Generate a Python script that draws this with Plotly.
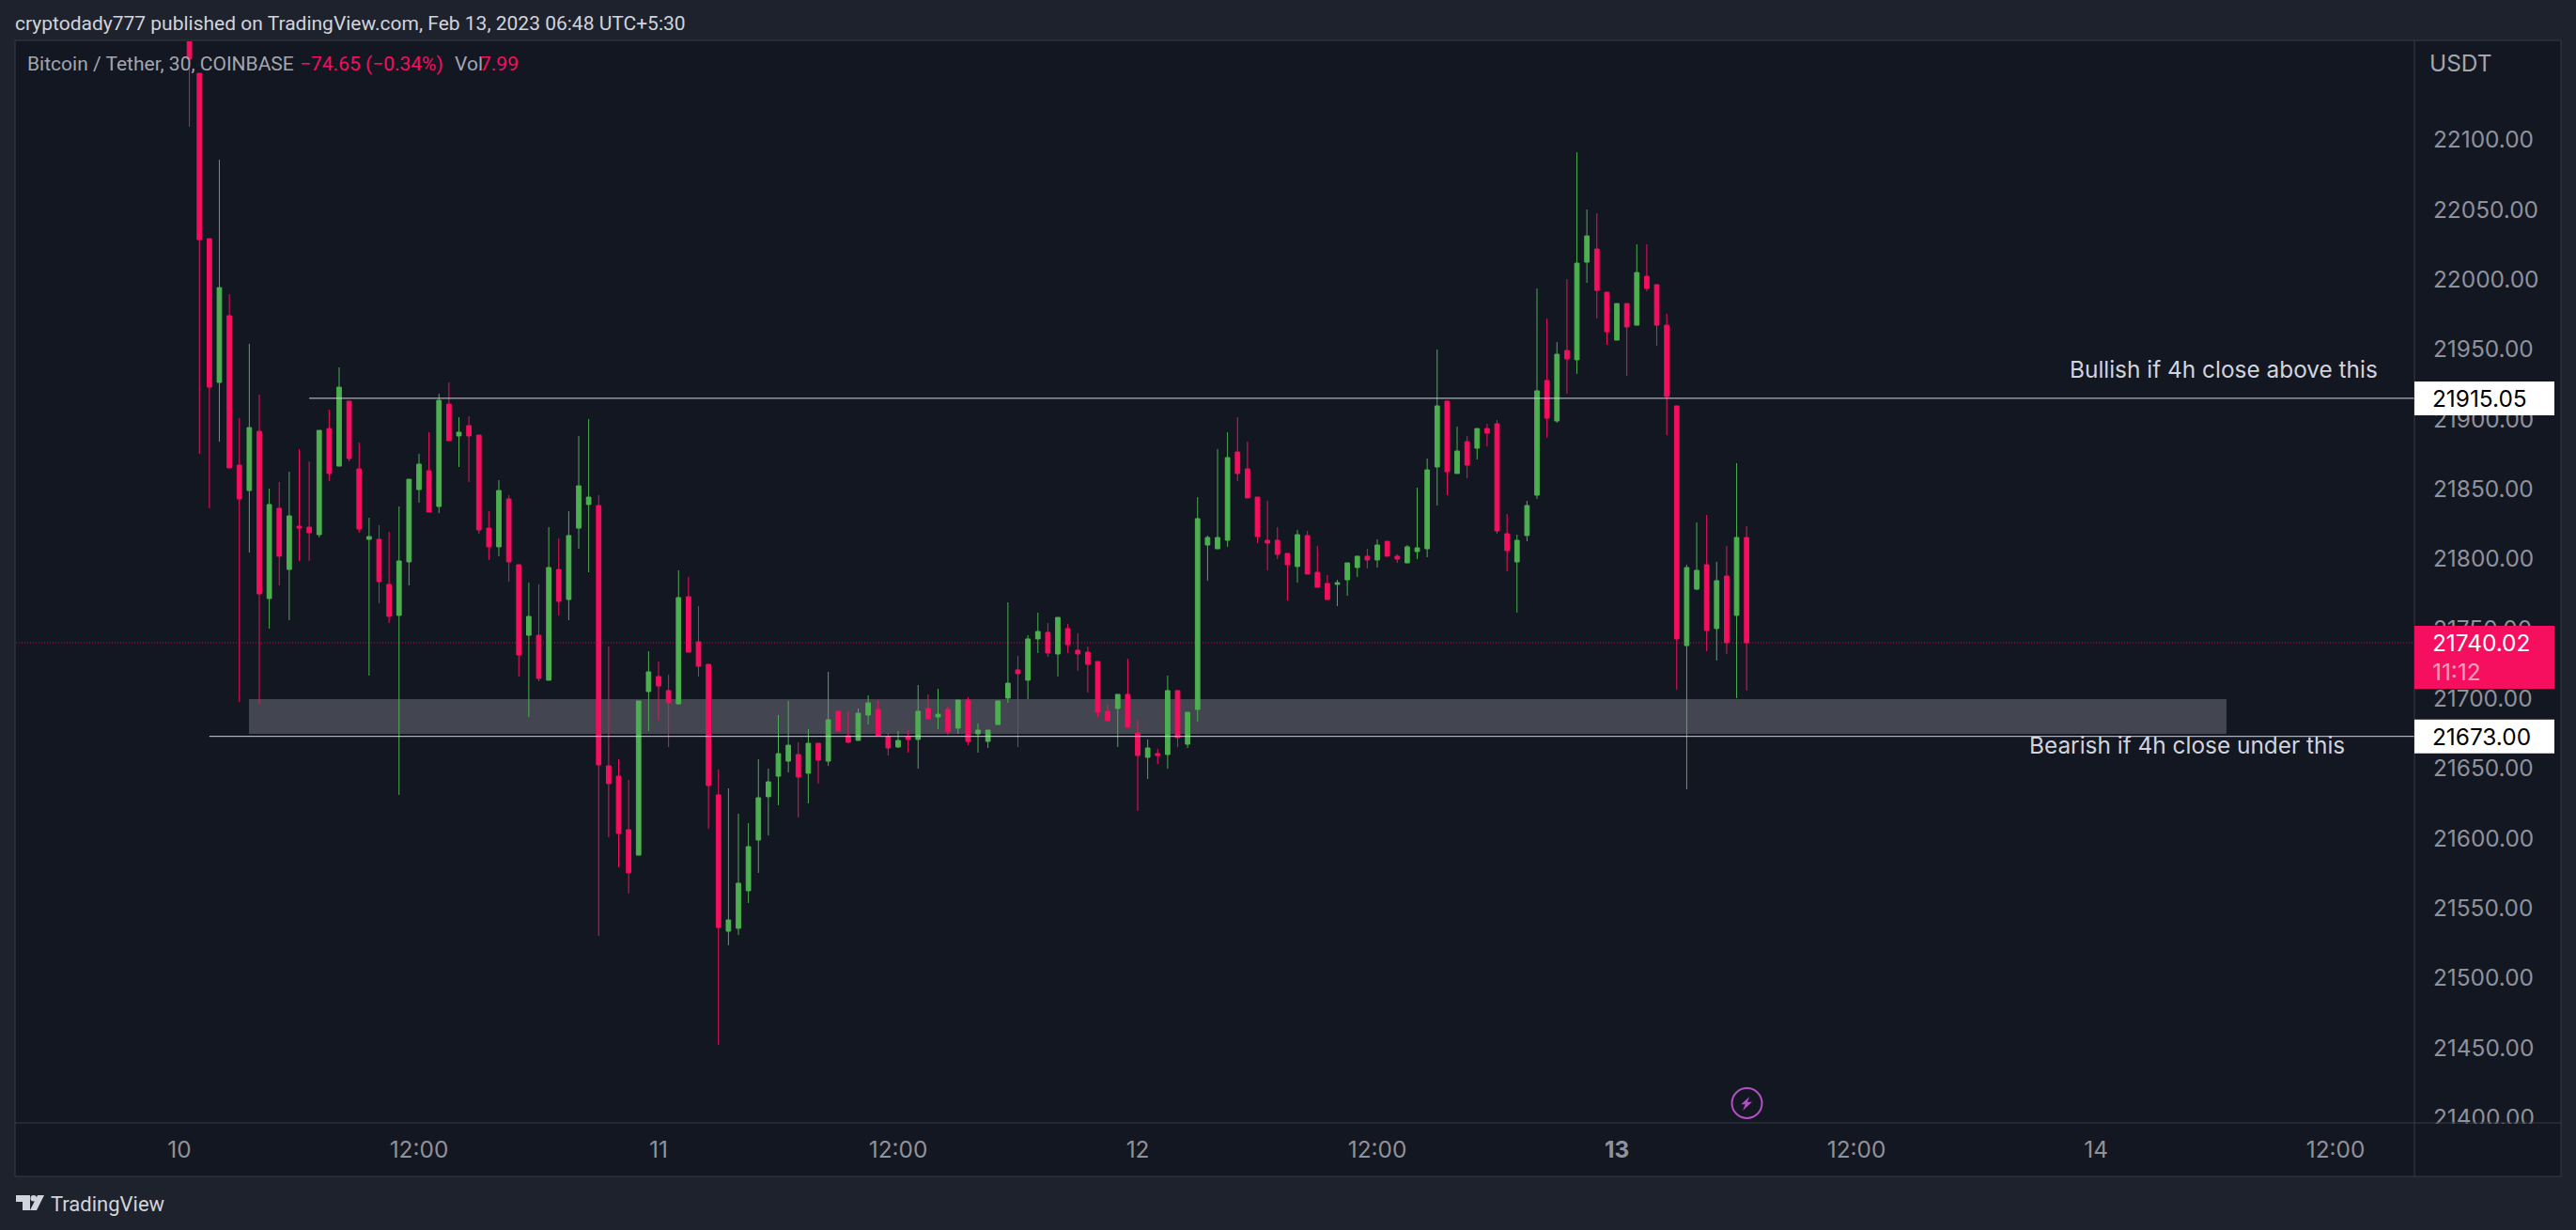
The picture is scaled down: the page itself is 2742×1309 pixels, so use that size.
import pandas as pd
import plotly.graph_objects as go

times = pd.date_range("2023-02-10 00:30", periods=157, freq="30min")

open_ = [22215.0,22147.7,22029.3,21926.4,21974.2,21867.2,21849.0,21891.4,21771.7,21836.3,
21792.5,21823.5,21822.8,21817.4,21893.4,21866.5,21913.0,21864.5,21814.1,21814.1,
21781.8,21759.6,21797.9,21849.7,21863.2,21837.6,21910.9,21888.1,21895.5,21888.7,
21822.1,21808.7,21843.0,21795.9,21745.4,21745.4,21713.2,21792.5,21771.0,21822.1,
21839.0,21838.3,21651.9,21644.5,21606.2,21588.0,21705.1,21715.9,21705.8,21696.3,
21773.0,21740.7,21724.6,21631.1,21533.5,21535.6,21562.5,21598.8,21629.8,21644.5,
21655.3,21660.0,21646.6,21668.1,21655.3,21691.0,21673.5,21670.1,21688.3,21692.3,
21672.8,21665.4,21672.8,21670.8,21693.0,21686.9,21692.3,21678.9,21699.0,21674.8,
21669.4,21681.5,21700.4,21720.6,21713.2,21742.8,21747.5,21732.0,21750.2,21734.7,
21733.3,21726.6,21691.0,21693.0,21703.1,21675.5,21658.0,21660.7,21660.0,21705.8,
21667.4,21692.3,21810.0,21807.3,21813.4,21876.6,21864.5,21844.3,21813.4,21813.4,
21804.0,21794.6,21816.8,21790.5,21782.5,21781.8,21785.1,21793.9,21802.0,21799.3,
21812.7,21802.0,21797.2,21805.3,21807.3,21865.9,21913.0,21861.2,21884.0,21879.3,
21893.4,21896.8,21818.1,21797.9,21816.8,21845.7,21927.8,21898.8,21949.3,21942.6,
22012.5,22021.9,21991.0,21956.7,21982.9,21967.4,22002.4,21996.4,21967.4,21909.6,
21738.0,21778.4,21795.9,21750.2,21787.8,21759.6,21815.4]

high = [22225.0,22147.7,22029.3,22085.8,21989.6,21900.8,21954.0,21917.7,21850.4,21855.1,
21862.5,21878.6,21869.9,21892.1,21906.9,21937.2,21913.0,21883.4,21829.5,21824.2,
21819.4,21837.6,21857.1,21875.3,21890.8,21918.3,21926.4,21901.5,21902.2,21888.7,
21834.2,21856.4,21845.7,21795.9,21783.1,21781.8,21822.8,21814.7,21834.2,21888.1,
21900.2,21845.7,21737.4,21656.7,21641.9,21698.4,21734.0,21726.6,21717.2,21791.9,
21787.2,21766.3,21724.6,21649.3,21635.8,21617.6,21610.9,21656.7,21649.9,21688.3,
21698.4,21668.8,21678.2,21668.1,21719.2,21691.0,21691.0,21693.0,21702.4,21699.0,
21675.5,21676.8,21677.5,21709.8,21703.1,21707.1,21694.3,21699.0,21701.1,21682.2,
21677.5,21698.4,21769.0,21730.6,21745.4,21761.6,21754.2,21758.2,21753.5,21746.8,
21737.4,21726.6,21695.7,21703.1,21728.6,21684.9,21670.8,21664.1,21716.5,21705.8,
21690.3,21844.3,21816.8,21878.6,21890.8,21901.5,21884.0,21844.3,21841.6,21822.8,
21804.0,21820.8,21820.1,21809.4,21788.5,21785.1,21797.2,21802.0,21807.3,21814.1,
21812.7,21803.3,21810.0,21851.1,21871.9,21950.0,21913.0,21894.8,21888.1,21893.4,
21896.8,21899.5,21832.2,21817.4,21841.6,21993.7,21972.2,21955.3,22000.4,22091.2,
22050.2,22047.5,21991.0,21982.9,21982.9,22025.3,22025.3,21996.4,21975.5,21909.6,
21795.9,21826.2,21831.6,21797.9,21809.4,21868.6,21823.5]

low = [22109.4,21875.3,21836.2,21884.0,21865.2,21697.7,21804.6,21696.3,21750.2,21781.1,
21756.2,21798.6,21798.6,21815.4,21855.8,21866.5,21869.9,21818.8,21716.5,21768.3,
21754.2,21631.1,21781.1,21840.3,21833.6,21832.9,21884.7,21865.9,21855.1,21818.1,
21799.3,21802.0,21783.8,21715.9,21686.9,21712.5,21713.2,21759.6,21756.2,21807.3,
21790.5,21530.2,21600.8,21579.3,21560.5,21588.0,21676.8,21684.2,21665.4,21695.7,
21733.3,21715.9,21606.9,21452.2,21523.5,21530.9,21553.7,21575.3,21602.2,21623.7,
21647.2,21615.0,21625.0,21639.2,21651.9,21676.8,21668.1,21670.1,21681.5,21673.5,
21659.3,21664.7,21661.4,21649.9,21685.6,21678.2,21674.1,21674.8,21666.7,21661.4,
21664.7,21681.5,21697.0,21665.4,21699.7,21732.7,21730.0,21715.9,21732.7,21719.9,
21704.4,21686.9,21684.2,21665.4,21679.5,21619.7,21642.5,21653.3,21649.9,21665.4,
21664.7,21683.6,21784.5,21807.3,21808.7,21855.8,21843.7,21811.4,21791.9,21799.9,
21770.3,21783.1,21789.2,21779.8,21771.0,21766.3,21773.7,21787.2,21793.2,21793.9,
21802.0,21797.2,21797.2,21799.9,21801.3,21838.3,21845.7,21861.2,21857.8,21871.2,
21880.7,21818.1,21791.2,21761.6,21812.7,21843.0,21886.7,21897.5,21918.3,21932.5,
21997.7,21972.2,21953.3,21956.7,21931.1,21967.4,21991.7,21952.6,21888.7,21706.4,
21635.1,21777.7,21734.0,21727.3,21732.0,21700.4,21705.8]

close = [22158.0,22028.6,21923.0,21994.3,21865.2,21843.0,21894.1,21775.0,21839.0,21802.0,
21830.9,21822.1,21818.8,21892.1,21861.2,21923.0,21871.9,21821.5,21816.1,21783.8,
21758.9,21798.6,21857.1,21867.9,21833.6,21913.6,21884.7,21890.8,21888.1,21820.8,
21808.7,21849.0,21797.9,21731.3,21758.9,21714.5,21793.9,21769.7,21816.8,21852.4,
21844.3,21652.6,21639.2,21603.5,21575.3,21698.4,21719.2,21709.1,21697.0,21772.4,
21733.3,21723.2,21637.8,21536.2,21541.6,21567.9,21594.1,21629.1,21640.5,21660.7,
21666.7,21643.9,21668.1,21656.0,21684.9,21676.8,21668.8,21689.6,21697.0,21673.5,
21664.7,21670.1,21670.8,21691.0,21685.6,21688.9,21676.2,21699.0,21669.4,21677.5,
21677.5,21698.4,21711.1,21717.9,21742.8,21748.1,21732.7,21758.2,21738.7,21732.0,
21724.6,21690.3,21684.2,21703.1,21679.5,21659.3,21664.7,21659.3,21705.8,21672.1,
21690.3,21828.9,21815.4,21815.4,21872.6,21861.2,21843.7,21816.1,21811.4,21803.3,
21795.9,21817.4,21789.2,21779.8,21771.0,21783.1,21797.2,21802.0,21799.3,21810.0,
21802.0,21799.9,21808.7,21808.0,21863.8,21909.6,21862.5,21877.3,21867.2,21893.4,
21890.1,21820.1,21806.0,21813.4,21838.3,21920.4,21900.8,21946.6,21943.2,22011.8,
22031.3,21992.3,21962.7,21982.9,21966.1,22005.1,21993.7,21967.4,21916.3,21742.8,
21793.9,21791.9,21748.8,21784.5,21740.1,21815.4,21740.0]

price_ticks = [21400, 21450, 21500, 21550, 21600, 21650, 21700, 21750, 21800, 21850, 21900, 21950, 22000, 22050, 22100]
price_labels = [f"{p}.00" for p in price_ticks]
time_ticks = ["2023-02-10 00:00", "2023-02-10 12:00", "2023-02-11 00:00", "2023-02-11 12:00", "2023-02-12 00:00",
              "2023-02-12 12:00", "2023-02-13 00:00", "2023-02-13 12:00", "2023-02-14 00:00", "2023-02-14 12:00"]
time_labels = ["10", "12:00", "11", "12:00", "12", "12:00", "<b>13</b>", "12:00", "14", "12:00"]

bull_level = 21915.05
bear_level = 21673.00
last_price = 21740.02
zone_low, zone_high = 21674.8, 21699.7

W, H = 2742, 1309
L, R, T, B = 17, 2570, 44, 1195
def px(x): return (x - L) / (R - L)
def py(y): return 1 - (y - T) / (B - T)
def poly(pts): return "M" + " L".join(f"{px(x):.6f},{py(y):.6f}" for x, y in pts) + " Z"

BG = "#1E222D"; PANEL = "#131722"; BORDER = "#363A45"
GREEN = "#4CAF50"; RED = "#F50F5E"; WHITE = "#D1D4DC"; GREY = "#8F929C"
FONT = "Inter"; SMALL = "Roboto"

def prect(x0, y0, x1, y1, fill, layer="below", line=None):
    return dict(type="rect", xref="paper", yref="paper", x0=px(x0), x1=px(x1), y0=py(y0), y1=py(y1),
                fillcolor=fill, line=dict(width=1 if line else 0, color=line or fill), layer=layer)

def tag(level, lo, hi, fill):
    return dict(type="rect", xref="paper", yref="y", x0=px(2570), x1=px(2719), ysizemode="pixel", yanchor=level,
                y0=lo, y1=hi, fillcolor=fill, line=dict(width=0), layer="above")

shapes = [
    prect(16, 43, 2726, 1252, PANEL, line=BORDER),
    dict(type="rect", xref="x", yref="y", x0="2023-02-10 03:29", x1="2023-02-14 06:32", y0=zone_low, y1=zone_high,
         fillcolor="#434650", line=dict(width=0), layer="below"),
    dict(type="line", xref="paper", yref="y", x0=0, x1=1, y0=last_price, y1=last_price,
         line=dict(color="rgba(245,15,94,0.75)", width=1, dash="1px,2px"), layer="below"),
    prect(2570, 1196, 2725, 1251, PANEL, layer="above"),
    dict(type="line", xref="paper", yref="paper", x0=px(16), x1=px(2726), y0=py(1195), y1=py(1195),
         line=dict(color=BORDER, width=1), layer="above"),
    dict(type="line", xref="paper", yref="paper", x0=px(2570), x1=px(2570), y0=py(43), y1=py(1252),
         line=dict(color=BORDER, width=1), layer="above"),
    tag(bull_level, -18, 18, "#FFFFFF"),
    tag(bear_level, -18, 18, "#FFFFFF"),
    tag(last_price, -49, 18, RED),
]
# TradingView logo
shapes.append(dict(type="path", xref="paper", yref="paper", layer="above", fillcolor="#D1D4DC", line=dict(width=0),
                   path=poly([(17,1272),(32,1272),(32,1288),(24,1288),(24,1279),(17,1279)])))
shapes.append(dict(type="path", xref="paper", yref="paper", layer="above", fillcolor="#D1D4DC", line=dict(width=0),
                   path=poly([(40,1272),(47,1272),(39,1288),(32,1288)])))
shapes.append(dict(type="circle", xref="paper", yref="paper", layer="above", fillcolor="#D1D4DC", line=dict(width=0),
                   x0=px(32.5), x1=px(39), y0=py(1272), y1=py(1278.5)))
# lightning badge
shapes.append(dict(type="circle", xref="paper", yref="paper", layer="above", fillcolor="rgba(0,0,0,0)",
                   line=dict(color="#B14FC4", width=2), x0=px(1843.5), x1=px(1875.5), y0=py(1158), y1=py(1190)))
shapes.append(dict(type="path", xref="paper", yref="paper", layer="above", fillcolor="#B14FC4", line=dict(width=0),
                   path=poly([(1862.3,1167),(1853.3,1175.3),(1857.7,1175.3),(1855,1182),(1865,1172.7),(1860,1172.7)])))

def note(text, x, y, color, size=24.4, anchor="left", yref="paper", family=FONT):
    return dict(text=text, x=px(x), y=y, xref="paper", yref=yref, xanchor=anchor, yanchor="middle", showarrow=False,
                font=dict(family=family, size=size, color=color), borderpad=0)

annotations = [
    note("cryptodady777 published on TradingView.com, Feb 13, 2023 06:48 UTC+5:30", 15, py(25.5), WHITE, size=21, family=SMALL),
    note("Bitcoin / Tether, 30, COINBASE", 28, py(68), "#A3A6AF", size=21, family=SMALL),
    note("−74.65 (−0.34%)", 318, py(68), RED, size=21, family=SMALL),
    note("Vol", 483, py(68), "#A3A6AF", size=21, family=SMALL),
    note("7.99", 510, py(68), RED, size=21, family=SMALL),
    note("USDT", 2585, py(67), "#A3A6AF"),
    note("Bullish if 4h close above this", 2532, py(393), WHITE, anchor="right"),
    note("Bearish if 4h close under this", 2497, py(793), WHITE, anchor="right"),
    note("21915.05", 2588, bull_level, "#000000", yref="y"),
    note("21673.00", 2588, bear_level, "#000000", yref="y"),
    note("21740.02", 2588, py(684), "#FFFFFF"),
    note("11:12", 2588, py(715), "rgba(255,255,255,0.6)"),
    note("TradingView", 53, py(1281), WHITE, size=22, family=SMALL),
]

fig = go.Figure()
fig.add_trace(go.Candlestick(
    x=times, open=open_, high=high, low=low, close=close,
    increasing=dict(line=dict(color=GREEN, width=1), fillcolor=GREEN),
    decreasing=dict(line=dict(color=RED, width=1), fillcolor=RED),
    whiskerwidth=0, hoverinfo="skip", showlegend=False,
))
for level, start in [(bull_level, "2023-02-10 06:30"), (bear_level, "2023-02-10 01:30")]:
    fig.add_trace(go.Scatter(x=[start, "2023-02-14 15:57"], y=[level, level], mode="lines",
                             line=dict(color=WHITE, width=1), hoverinfo="skip", showlegend=False))

fig.update_layout(
    width=W, height=H, autosize=False, boxgap=0.36,
    paper_bgcolor=BG, plot_bgcolor=PANEL,
    margin=dict(l=L, r=W - R, t=T, b=H - B, pad=0, autoexpand=False),
    font=dict(family=FONT, size=24.4, color=GREY),
    shapes=shapes, annotations=annotations, showlegend=False,
    xaxis=dict(type="date", range=["2023-02-09 15:48:45", "2023-02-14 15:57:00"],
               rangeslider=dict(visible=False), tickmode="array", tickvals=time_ticks, ticktext=time_labels,
               showgrid=False, zeroline=False, showline=False, ticks="", ticklabelstandoff=12,
               tickfont=dict(family=FONT, size=24.4, color=GREY), fixedrange=True),
    yaxis=dict(side="right", range=[21396.3, 22170.6], tickmode="array", tickvals=price_ticks, ticktext=price_labels,
               showgrid=False, zeroline=False, showline=False, ticks="", ticklabelstandoff=19,
               tickfont=dict(family=FONT, size=24.4, color=GREY), fixedrange=True),
)

fig.write_html("out.html", config=dict(displayModeBar=False),
               post_script="document.body.style.margin='0';document.documentElement.style.overflow='hidden';")
